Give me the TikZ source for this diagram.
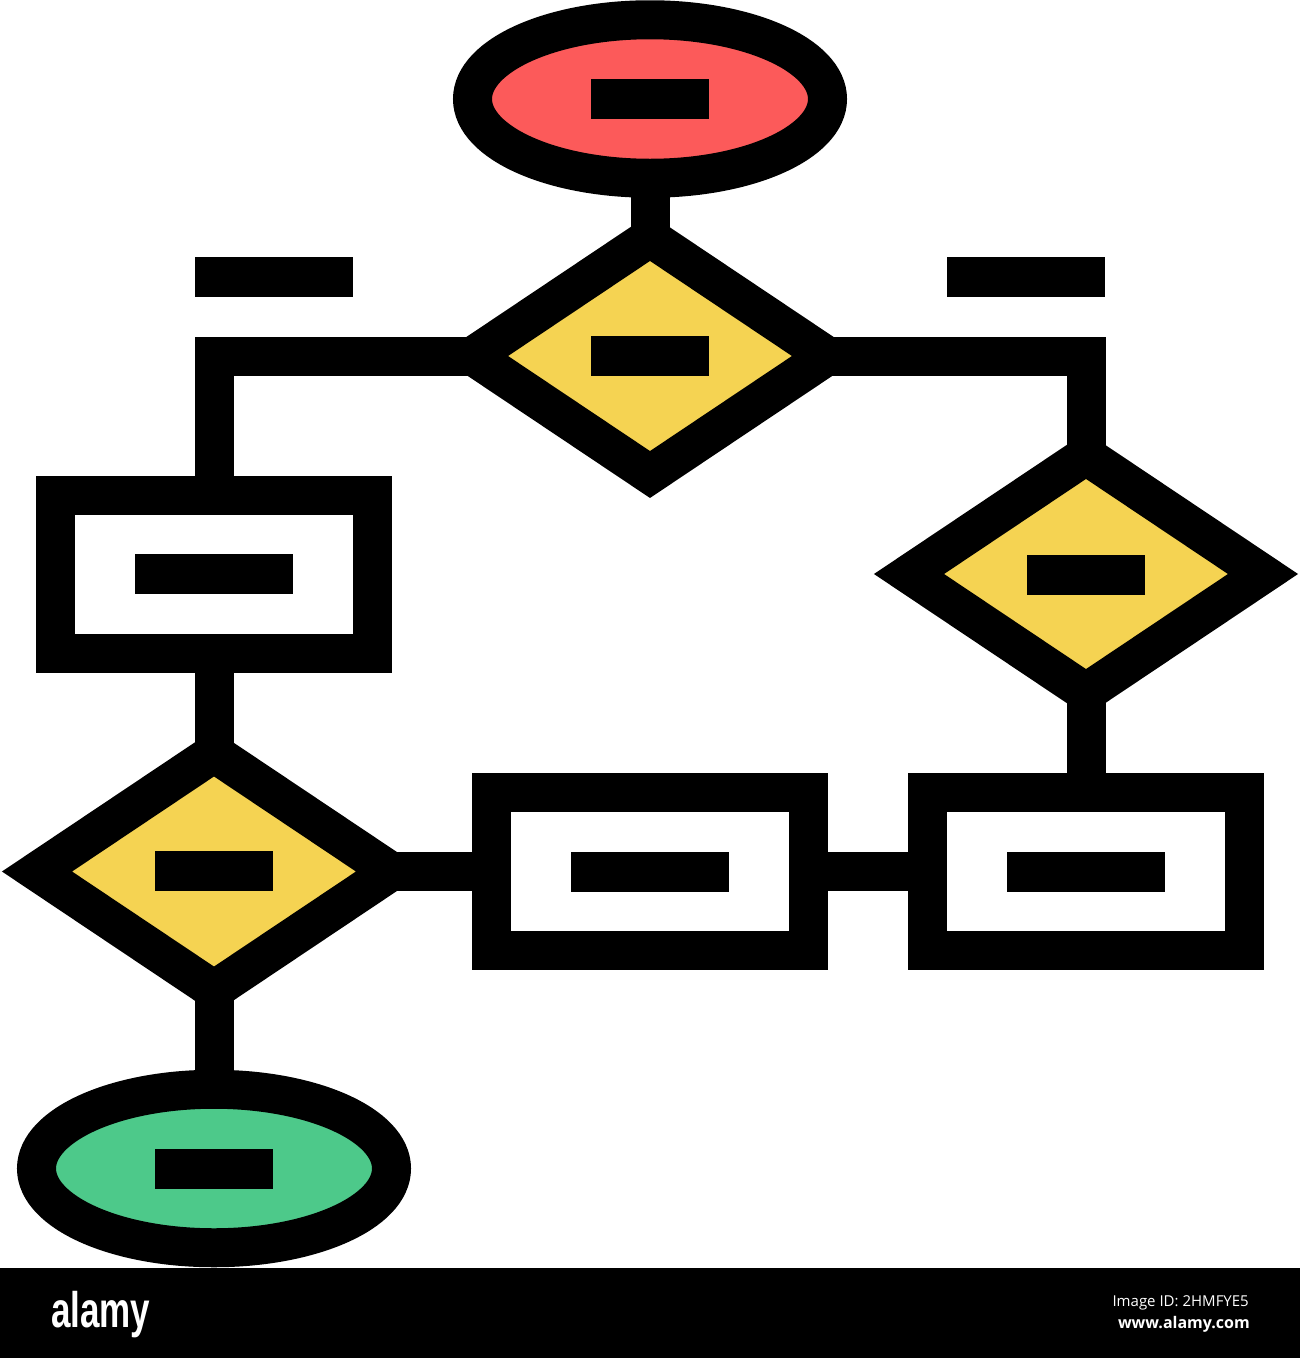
\documentclass[tikz,border=0pt]{standalone}
\usepackage{fontspec}
\newfontfamily\brandfont{Liberation Sans}
\newfontfamily\idfont{Open Sans}
\usetikzlibrary{shapes.geometric,backgrounds}
\definecolor{startred}{HTML}{FC5A5A}
\definecolor{decyellow}{HTML}{F5D352}
\definecolor{endgreen}{HTML}{4DC98A}
\begin{document}
\begin{tikzpicture}[x=1pt,y=-1pt,
  term/.style={ellipse, draw=black, line width=39pt, minimum width=355pt, minimum height=158.5pt, inner sep=0pt, outer sep=0pt},
  decision/.style={diamond, draw=black, line width=39pt, fill=decyellow, minimum width=354pt, minimum height=237pt, inner sep=0pt, outer sep=0pt, aspect=1.5},
  process/.style={rectangle, draw=black, line width=39pt, fill=white, minimum width=317pt, minimum height=158.5pt, inner sep=0pt, outer sep=0pt},
  bar/.style={rectangle, fill=black, inner sep=0pt, outer sep=0pt, minimum height=40pt},
  shortbar/.style={bar, minimum width=118pt},
  longbar/.style={bar, minimum width=158pt},
  link/.style={draw=black, line width=39pt, line join=miter}
]
\useasboundingbox (0,0) rectangle (1300,1358);

% shapes
\node[term, fill=startred] (e1) at (650,99) {};
\node[decision] (d1) at (650,356) {};
\node[process] (r1) at (214,574.25) {};
\node[decision] (d2) at (1086,574) {};
\node[decision] (d3) at (214,871.5) {};
\node[process] (r2) at (650,871.5) {};
\node[process] (r3) at (1086,871.5) {};
\node[term, fill=endgreen] (e2) at (214,1168.5) {};

% placeholder text bars
\node[shortbar] (b1) at (650,99) {};
\node[shortbar] (b2) at (650,356) {};
\node[longbar] (b3) at (214,574) {};
\node[shortbar] (b4) at (1086,574.5) {};
\node[shortbar] (b5) at (214,871) {};
\node[longbar] (b6) at (649.5,871.5) {};
\node[longbar] (b7) at (1085.5,871.5) {};
\node[shortbar] (b8) at (214,1168.5) {};
\node[longbar] (lblL) at (273.5,277) {};
\node[longbar] (lblR) at (1026,277) {};

% connectors
\begin{scope}[on background layer]
\draw[link] (e1.center) -- (d1.center);
\draw[link] (d1.center) -| (r1.center);
\draw[link] (d1.center) -| (d2.center);
\draw[link] (r1.center) -- (d3.center);
\draw[link] (d3.center) -- (r2.center);
\draw[link] (r2.center) -- (r3.center);
\draw[link] (d2.center) -- (r3.center);
\draw[link] (d3.center) -- (e2.center);
\end{scope}

% banner
\node[rectangle, fill=black, inner sep=0pt, outer sep=0pt, minimum width=1300pt, minimum height=90pt] (banner) at (650,1313) {};
\node[anchor=base west, text=white, inner sep=0pt] (brand) at (51,1327)
  {\brandfont\bfseries\fontsize{50}{50}\selectfont\scalebox{0.7}[1]{alamy}};
\node[anchor=base east, text=white, inner sep=0pt] (imgid) at (1249,1306)
  {\idfont\fontsize{15}{16}\selectfont Image ID: 2HMFYE5};
\node[anchor=base east, text=white, inner sep=0pt] (site) at (1250,1328)
  {\idfont\bfseries\fontsize{16}{17}\selectfont www.alamy.com};
\end{tikzpicture}
\end{document}
